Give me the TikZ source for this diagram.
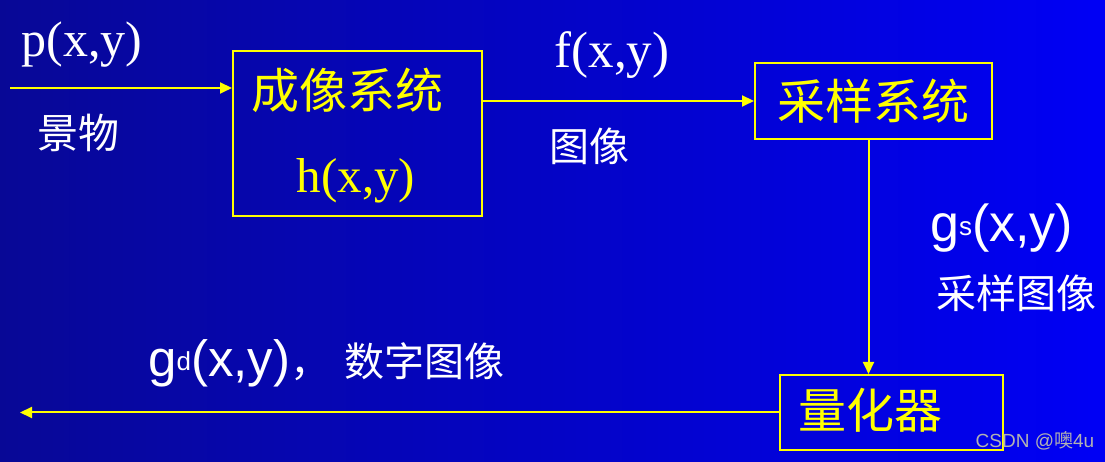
\documentclass[tikz,border=0pt]{standalone}
\usepackage{fontspec}
\setmainfont{Liberation Serif}
\newfontfamily\cjk{Noto Sans CJK SC}
\newfontfamily\arial{Liberation Sans}
\usepackage{tikz}
\usetikzlibrary{arrows.meta,positioning,calc}

\definecolor{bgleft}{RGB}{8,8,150}
\definecolor{bgright}{RGB}{0,0,245}
\definecolor{sigyellow}{RGB}{255,255,0}

\newcommand{\smallsub}[1]{\raisebox{6pt}{\fontsize{26}{26}\selectfont #1}}

\begin{document}
\begin{tikzpicture}[x=1pt,y=1pt,
    block/.style={rectangle, draw=sigyellow, line width=2pt, inner sep=0pt},
    sig/.style={draw=sigyellow, line width=2pt, -{Triangle[length=12pt,width=11pt]}},
    lbl/.style={text=white, inner sep=0pt},
    btxt/.style={text=sigyellow, inner sep=0pt}]
    % background
    \shade[left color=bgleft, right color=bgright] (0,0) rectangle (1105,462);
    \useasboundingbox (0,0) rectangle (1105,462);

    % blocks
    \node (imaging) [block, minimum width=249pt, minimum height=165pt] at (357.5,328.5) {};
    \node (imgtxt) [btxt, font=\cjk\fontsize{48}{48}\selectfont] at (347,372) {成像系统};
    \node (htxt) [btxt, font=\fontsize{49}{49}\selectfont] at (356,281) {h(x,y)};
    \node (sampling) [block, minimum width=237pt, minimum height=76pt, text=sigyellow, font=\cjk\fontsize{48}{48}\selectfont] at (873.5,361) {采样系统};
    \node (quant) [block, minimum width=223pt, minimum height=75pt] at (891.5,49.5) {};
    \node (quanttxt) [btxt, font=\cjk\fontsize{48}{48}\selectfont] at (870,52) {量化器};

    % labels
    \node (ptxt) [lbl, font=\fontsize{50}{50}\selectfont] at (82,417) {p(x,y)};
    \node (scene) [lbl, font=\cjk\fontsize{41}{41}\selectfont] at (78,329) {景物};
    \node (ftxt) [lbl, font=\fontsize{51}{51}\selectfont] at (612,407) {f(x,y)};
    \node (image) [lbl, font=\cjk\fontsize{40}{40}\selectfont] at (589,316) {图像};
    \node (gstxt) [lbl, font=\arial\fontsize{52}{52}\selectfont, anchor=base west] at (930,220) {g\smallsub{s}(x,y)};
    \node (sampimg) [lbl, font=\cjk\fontsize{40}{40}\selectfont] at (1016,169) {采样图像};
    \node (gdtxt) [lbl, font=\arial\fontsize{51}{51}\selectfont, anchor=base west] at (148,85) {g\smallsub{d}(x,y){\cjk\fontsize{40}{40}\selectfont ，\hspace{14pt}数字图像}};
    \node (mark) [text=gray!60, inner sep=0pt, font=\arial\fontsize{19}{19}\selectfont] at (1035,21) {CSDN @{\cjk 噢}4u};

    % connectors
    \coordinate (in) at (10,374);
    \coordinate (out) at (20,50);
    \draw [sig] (in) -- (in -| imaging.west);
    \draw [sig] (imaging.east |- sampling.west) -- (sampling.west);
    \draw [sig] ([xshift=-5pt]sampling.south) -- ([xshift=-5pt]sampling.south |- quant.north);
    \draw [sig] (quant.west) -- (quant.west -| out);
\end{tikzpicture}
\end{document}
